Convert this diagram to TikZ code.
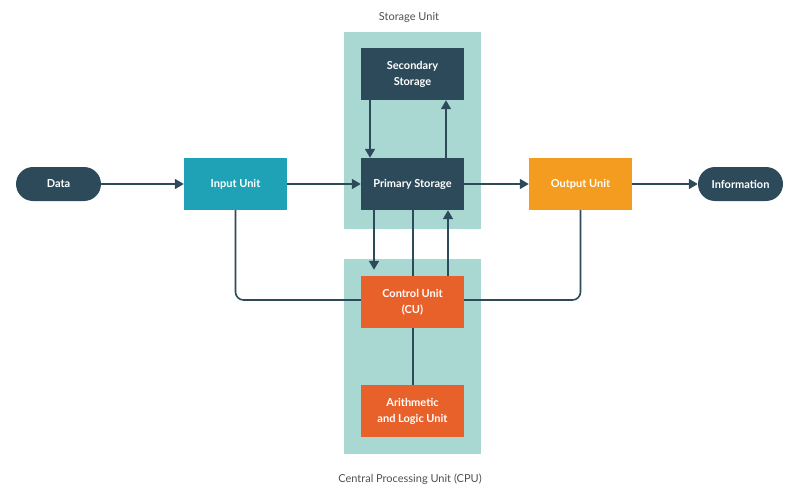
\documentclass[tikz,border=0pt]{standalone}
\usepackage{fontspec}
\setmainfont{Lato}
\usetikzlibrary{arrows.meta}
\definecolor{dark}{HTML}{2D4A5B}
\definecolor{teal}{HTML}{A8D8D1}
\definecolor{orng}{HTML}{E8612A}
\definecolor{inp}{HTML}{1FA2B5}
\definecolor{outp}{HTML}{F39C20}
\definecolor{lbl}{HTML}{505050}
\begin{document}
\begin{tikzpicture}[x=1pt,y=-1pt,
  box/.style={minimum width=103pt,minimum height=52pt,inner sep=0pt,text=white,align=center,font=\fontsize{11}{16}\selectfont\bfseries},
  pill/.style={rounded corners=17pt,minimum width=85pt,minimum height=34pt,inner sep=0pt,fill=dark,text=white,font=\fontsize{11}{13}\selectfont\bfseries},
  grp/.style={fill=teal,draw=none},
  glabel/.style={text=lbl,font=\fontsize{11}{13}\selectfont},
  conn/.style={draw=dark,line width=1.6pt},
  thin conn/.style={draw=dark,line width=1.3pt},
  arr/.style={conn,-{Triangle[length=9pt,width=10pt]}}
]
\useasboundingbox (0,0) rectangle (800,500);
\fill[white] (0,0) rectangle (800,500);
% groups
\node[grp,minimum width=137pt,minimum height=197pt,inner sep=0pt] (sgrp) at (412.5,130.5) {};
\node[grp,minimum width=137pt,minimum height=195pt,inner sep=0pt] (cgrp) at (412.5,356.5) {};
\node[glabel] (slbl) at (409,17) {Storage Unit};
\node[glabel] (clbl) at (410,479) {Central Processing Unit (CPU)};
% nodes
\node[box,fill=dark] (sec) at (412.5,74) {Secondary\\Storage};
\node[box,fill=dark] (prim) at (412.5,184) {Primary Storage};
\node[box,fill=orng] (cu) at (412.5,302) {Control Unit\\(CU)};
\node[box,fill=orng] (alu) at (412.5,411) {Arithmetic\\and Logic Unit};
\node[box,fill=inp] (in) at (235.5,184) {Input Unit};
\node[box,fill=outp] (out) at (580.5,184) {Output Unit};
\node[pill] (data) at (58.5,184) {Data};
\node[pill] (info) at (740.5,184) {Information};
% connectors
\draw[arr] (data) -- (in);
\draw[arr] (in) -- (prim);
\draw[arr] (prim) -- (out);
\draw[arr] (out) -- (info);
\draw[arr] (sec.south -| 370,0) -- (prim.north -| 370,0);
\draw[arr] (prim.north -| 446,0) -- (sec.south -| 446,0);
\draw[arr,shorten >=6pt] (prim.south -| 374,0) -- (cu.north -| 374,0);
\draw[thin conn] (prim.south -| 413,0) -- (cu.north -| 413,0);
\draw[arr] (cu.north -| 448,0) -- (prim.south -| 448,0);
\draw[thin conn] (cu.south -| 413,0) -- (alu.north -| 413,0);
\draw[conn,rounded corners=8pt] (in.south) |- (cu.west |- 0,300);
\draw[conn,rounded corners=8pt] (out.south) |- (cu.east |- 0,300);
\end{tikzpicture}
\end{document}
